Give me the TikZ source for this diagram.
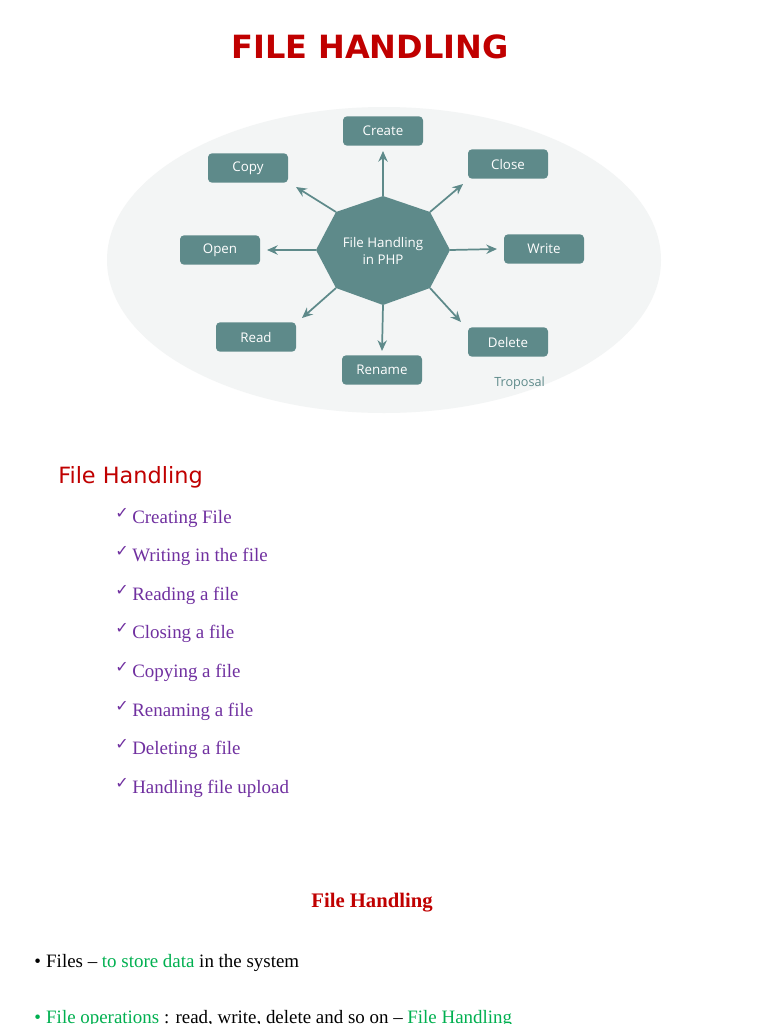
\documentclass[tikz,border=0pt]{standalone}
\usepackage{fontspec}
\setmainfont{Liberation Serif}
\newfontfamily\dejavu{DejaVu Sans}
\newfontfamily\opens{Open Sans}
\usetikzlibrary{arrows.meta}
\definecolor{teal1}{HTML}{5E8A8A}
\definecolor{bgell}{HTML}{F3F5F5}
\definecolor{titred}{HTML}{C00000}
\definecolor{purp}{HTML}{7030A0}
\definecolor{grn}{HTML}{00B050}
\tikzset{
 opbox/.style={draw=none,fill=teal1,rounded corners=3pt,minimum width=60pt,minimum height=22pt,text=white,font=\opens\fontsize{10}{11}\selectfont,inner sep=0pt},
 conn/.style={draw=teal1,line width=1.3pt,-{Stealth[length=8pt,width=7pt]}},
 item/.style={anchor=base west,text=purp,font=\fontsize{14.2}{16}\selectfont,inner sep=0pt},
 chk/.style={anchor=base west,text=purp,font=\dejavu\fontsize{12}{14}\selectfont,inner sep=0pt}
}
\begin{document}
\begin{tikzpicture}[x=0.75pt,y=-0.75pt]
\useasboundingbox[fill=white] (0,0) rectangle (768,1024);
\node[text=titred,font=\dejavu\bfseries\fontsize{24}{28}\selectfont] (title) at (370,47) {FILE HANDLING};
\fill[bgell] (384,260) ellipse [x radius=277, y radius=153];
\fill[teal1] (383,196) coordinate (v1) -- (430,212) coordinate (v2) -- (450,250) coordinate (v3) -- (430,288) coordinate (v4) -- (383,305) coordinate (v5) -- (336,288) coordinate (v6) -- (316,250) coordinate (v7) -- (336,212) coordinate (v8) -- cycle;
\node[text=white,align=center,font=\opens\fontsize{10}{12.5}\selectfont] (hub) at (383,251) {File Handling\\in PHP};
\node[opbox] (create) at (383,131) {Create};
\node[opbox] (copy) at (248,168) {Copy};
\node[opbox] (close) at (508,164) {Close};
\node[opbox] (open) at (220,250) {Open};
\node[opbox] (write) at (544,249) {Write};
\node[opbox] (read) at (256,337) {Read};
\node[opbox] (rename) at (382,370) {Rename};
\node[opbox] (delete) at (508,342) {Delete};
\coordinate (tcreate) at (383,151);
\coordinate (tcopy) at (296,187);
\coordinate (tclose) at (463,184);
\coordinate (topen) at (267,250);
\coordinate (twrite) at (497,249);
\coordinate (tread) at (302,318);
\coordinate (trename) at (382,351);
\coordinate (tdelete) at (461,322);
\draw[conn] (v1) -- (tcreate);
\draw[conn] (v8) -- (tcopy);
\draw[conn] (v2) -- (tclose);
\draw[conn] (v7) -- (topen);
\draw[conn] (v3) -- (twrite);
\draw[conn] (v6) -- (tread);
\draw[conn] (v5) -- (trename);
\draw[conn] (v4) -- (tdelete);
\node[anchor=base west,text=teal1,font=\opens\fontsize{9.5}{11}\selectfont,inner sep=0pt] (trop) at (494,386) {Troposal};
\node[anchor=base west,text=titred,font=\dejavu\fontsize{16.8}{20}\selectfont,inner sep=0pt] (h1) at (58,483) {File Handling};
\foreach \t [count=\i] in {Creating File,Writing in the file,Reading a file,Closing a file,Copying a file,Renaming a file,Deleting a file,Handling file upload}{
  \node[chk] (c\i) at (115,{518+(\i-1)*38.6}) {✓};
  \node[item] (it\i) at (132,{523+(\i-1)*38.6}) {\t};
}
\node[text=titred,font=\bfseries\fontsize{15.5}{18}\selectfont] (h2) at (372,903) {File Handling};
\node[anchor=base west,inner sep=0pt,font=\fontsize{14.2}{16}\selectfont] (b1) at (34,967) {•\hspace{4pt}Files – \textcolor{grn}{to store data} in the system};
\node[anchor=base west,inner sep=0pt,font=\fontsize{14.2}{16}\selectfont] (b2) at (34,1023) {\textcolor{grn}{•\hspace{4pt}File operations} : read, write, delete and so on – \textcolor{grn}{File Handling}};
\end{tikzpicture}
\end{document}
